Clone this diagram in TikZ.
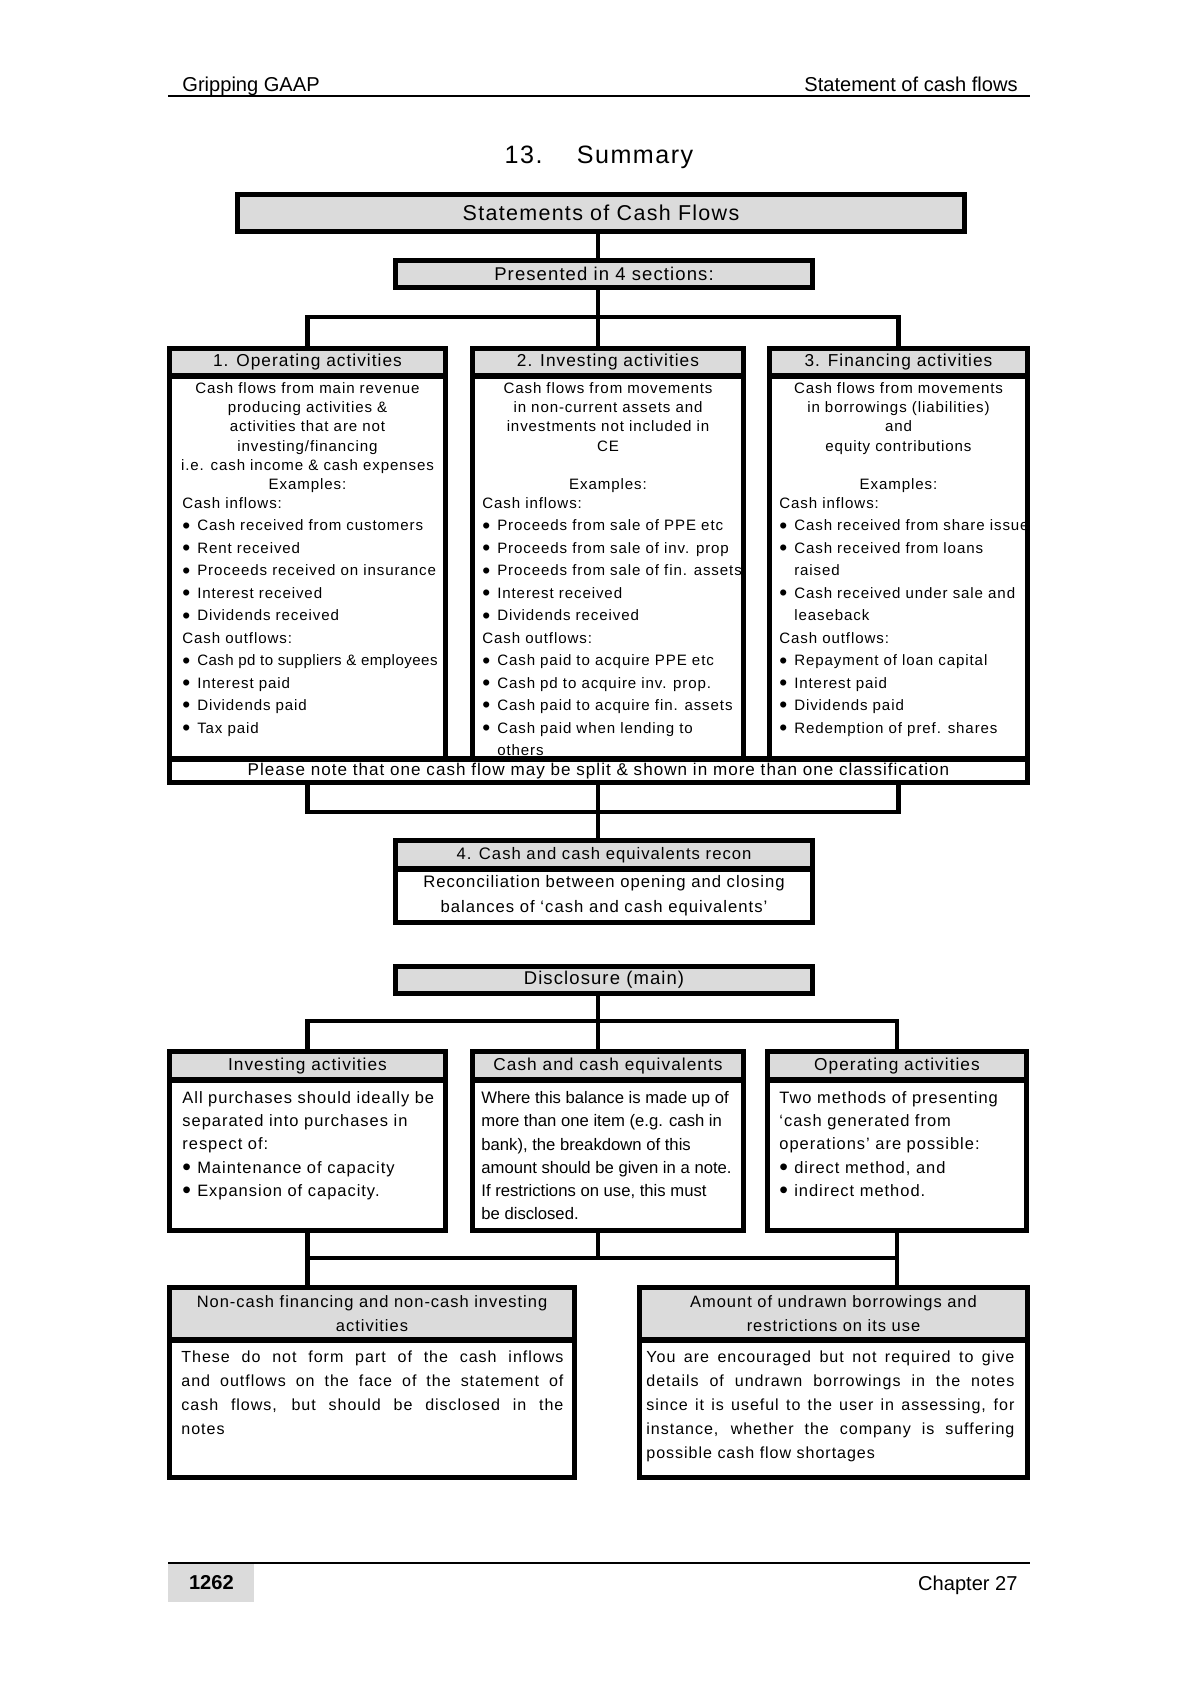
\documentclass[tikz,border=0pt]{standalone}
\usepackage{graphicx}
\usepackage{fontspec}
\setmainfont{Liberation Sans}[LetterSpace=6]
\newfontfamily\pagefont{Liberation Sans}
\usetikzlibrary{positioning}
\newlength{\pxl}
\setlength{\pxl}{0.175mm}
\newcommand{\itm}{\makebox[2.6mm][l]{\raisebox{-0.28ex}{\scalebox{1.5}{\textbullet}}}}
\newcommand{\cnt}{\hspace*{2.6mm}}

\begin{document}
\begin{tikzpicture}[x=0.175mm, y=-0.175mm,
        head/.style={rectangle, draw=black, fill=black!14, line width=2.6pt, outer sep=0pt, inner sep=0pt, align=center, font=\fontsize{8.6}{10}\selectfont},
        body/.style={rectangle, draw=black, fill=white, line width=2.6pt, outer sep=0pt, inner sep=0pt},
        link/.style={draw=black, line width=2.4pt, line cap=rect},
        desc/.style={anchor=north, inner sep=0pt, align=center, font=\fontsize{7.5}{9.6}\selectfont},
        items/.style={anchor=north west, inner sep=0pt, align=left, font=\fontsize{7.5}{11.2}\selectfont},
        notes/.style={anchor=north west, inner sep=0pt, align=left, font=\fontsize{8.2}{11.6}\selectfont},
        para/.style={anchor=north west, inner sep=0pt, align=justify, font=\fontsize{8}{12}\selectfont},
        pagetext/.style={inner sep=0pt, font=\pagefont\fontsize{10}{12}\selectfont}]

        \useasboundingbox (0,0) rectangle (1200,1696);

        \node [pagetext, anchor=base west] (book) at (182,91) {Gripping GAAP};
        \node [pagetext, anchor=base east] (topic) at (1018,91) {Statement of cash flows};
        \draw [line width=1pt] (168,96) -- (1030,96);

        \node [anchor=base, inner sep=0pt, font=\fontsize{12.5}{15}\selectfont] (summary) at (599,163) {13.\hspace{6mm}Summary};

        \coordinate (spine) at (598,0);
        \coordinate (bar1) at (598,317);
        \coordinate (bar2) at (598,812);
        \coordinate (bar3) at (598,1021);
        \coordinate (bar4) at (598,1258);

        \node [head, minimum width=727*\pxl, minimum height=37*\pxl, font=\fontsize{10.7}{12.6}\selectfont] (main) at (601,213) {Statements of Cash Flows};

        \node [head, minimum width=417*\pxl, minimum height=27*\pxl, font=\fontsize{9.2}{11}\selectfont] (sect) at (604,274) {Presented in 4 sections:};

        \node [head, minimum width=276*\pxl, minimum height=27.5*\pxl] (ophead) at (307.5,362.25) {1. Operating activities};
        \node [body, minimum width=276*\pxl, minimum height=383*\pxl, below=0pt of ophead] (opbody) {};

        \node [head, minimum width=271*\pxl, minimum height=27.5*\pxl] (invhead) at (608,362.25) {2. Investing activities};
        \node [body, minimum width=271*\pxl, minimum height=383*\pxl, below=0pt of invhead] (invbody) {};

        \node [head, minimum width=258*\pxl, minimum height=27.5*\pxl] (finhead) at (898.5,362.25) {3. Financing activities};
        \node [body, minimum width=258*\pxl, minimum height=383*\pxl, below=0pt of finhead] (finbody) {};

        \node [body, anchor=north west, minimum width=858*\pxl, minimum height=23.5*\pxl, font=\fontsize{8.5}{9}\selectfont] (note) at (opbody.south west) {Please note that one cash flow may be split \& shown in more than one classification};

        \begin{scope}
            \clip (opbody.north west) rectangle (opbody.south east);
            \node [desc] (opdesc) at (307.5,382) {Cash flows from main revenue\\producing activities \&\\activities that are not\\investing/financing\\i.e. cash income \& cash expenses\\Examples:};
            \node [items] (oplist) at (182,497) {Cash inflows:\\
                \itm Cash received from customers\\
                \itm Rent received\\
                \itm Proceeds received on insurance\\
                \itm Interest received\\
                \itm Dividends received\\
                Cash outflows:\\
                \itm {\addfontfeature{LetterSpace=3}Cash pd to suppliers \& employees}\\
                \itm Interest paid\\
                \itm Dividends paid\\
                \itm Tax paid};
        \end{scope}

        \begin{scope}
            \clip (invbody.north west) rectangle (invbody.south east);
            \node [desc] (invdesc) at (608,382) {Cash flows from movements\\in non-current assets and\\investments not included in\\CE\\[9.6pt]Examples:};
            \node [items] (invlist) at (482,497) {Cash inflows:\\
                \itm Proceeds from sale of PPE etc\\
                \itm Proceeds from sale of inv. prop\\
                \itm Proceeds from sale of fin. assets\\
                \itm Interest received\\
                \itm Dividends received\\
                Cash outflows:\\
                \itm Cash paid to acquire PPE etc\\
                \itm Cash pd to acquire inv. prop.\\
                \itm Cash paid to acquire fin. assets\\
                \itm Cash paid when lending to\\
                \cnt others};
        \end{scope}

        \begin{scope}
            \clip (finbody.north west) rectangle (finbody.south east);
            \node [desc] (findesc) at (898.5,382) {Cash flows from movements\\in borrowings (liabilities)\\and\\equity contributions\\[9.6pt]Examples:};
            \node [items] (finlist) at (779,497) {Cash inflows:\\
                \itm Cash received from share issues\\
                \itm Cash received from loans\\
                \cnt raised\\
                \itm Cash received under sale and\\
                \cnt leaseback\\
                Cash outflows:\\
                \itm Repayment of loan capital\\
                \itm Interest paid\\
                \itm Dividends paid\\
                \itm Redemption of pref. shares};
        \end{scope}

        \node [head, minimum width=417*\pxl, minimum height=28.5*\pxl, font=\fontsize{8.3}{10}\selectfont] (reconhead) at (604,854.75) {4. Cash and cash equivalents recon};
        \node [body, minimum width=417*\pxl, minimum height=53.5*\pxl, below=0pt of reconhead, align=center, font=\fontsize{8.3}{12.4}\selectfont] (reconbody) {Reconciliation between opening and closing\\balances of `cash and cash equivalents'};

        \node [head, minimum width=417*\pxl, minimum height=27*\pxl, font=\fontsize{9.2}{11}\selectfont] (disc) at (604,980) {Disclosure (main)};

        \node [head, minimum width=276*\pxl, minimum height=28.5*\pxl] (dinvhead) at (307.5,1065.75) {Investing activities};
        \node [body, minimum width=276*\pxl, minimum height=150.5*\pxl, below=0pt of dinvhead] (dinvbody) {};

        \node [head, minimum width=271*\pxl, minimum height=28.5*\pxl] (dcashhead) at (608,1065.75) {Cash and cash equivalents};
        \node [body, minimum width=271*\pxl, minimum height=150.5*\pxl, below=0pt of dcashhead] (dcashbody) {};

        \node [head, minimum width=259*\pxl, minimum height=28.5*\pxl] (dophead) at (897,1065.75) {Operating activities};
        \node [body, minimum width=259*\pxl, minimum height=150.5*\pxl, below=0pt of dophead] (dopbody) {};

        \node [notes] (dinvtext) at (182,1091) {All purchases should ideally be\\separated into purchases in\\respect of:\\\itm Maintenance of capacity\\\itm Expansion of capacity.};
        \node [notes, font=\pagefont\fontsize{8.3}{11.6}\selectfont] (dcashtext) at (481,1091) {Where this balance is made up of\\more than one item (e.g. cash in\\bank), the breakdown of this\\amount should be given in a note.\\If restrictions on use, this must\\be disclosed.};
        \node [notes] (doptext) at (779,1091) {Two methods of presenting\\`cash generated from\\operations' are possible:\\\itm direct method, and\\\itm indirect method.};

        \node [head, minimum width=405*\pxl, minimum height=52.5*\pxl, font=\fontsize{8.2}{11.8}\selectfont] (noncashhead) at (372,1313.75) {Non-cash financing and non-cash investing\\activities};
        \node [body, minimum width=405*\pxl, minimum height=137.5*\pxl, below=0pt of noncashhead] (noncashbody) {};

        \node [head, minimum width=388*\pxl, minimum height=52.5*\pxl, font=\fontsize{8.2}{11.8}\selectfont] (undrawnhead) at (833.5,1313.75) {Amount of undrawn borrowings and\\restrictions on its use};
        \node [body, minimum width=388*\pxl, minimum height=137.5*\pxl, below=0pt of undrawnhead] (undrawnbody) {};

        \node [para, text width=382*\pxl] (noncashtext) at (181,1350) {These do not form part of the cash inflows\linebreak and outflows on the face of the statement of\linebreak cash flows, but should be disclosed in the\linebreak notes};
        \node [para, text width=368*\pxl] (undrawntext) at (646,1350) {You are encouraged but not required to give\linebreak details of undrawn borrowings in the notes\linebreak since it is useful to the user in assessing, for\linebreak instance, whether the company is suffering\linebreak possible cash flow shortages};

        \path [link] (main.south -| spine) -- (sect.north -| spine);
        \path [link] (sect.south -| spine) -- (invhead.north -| spine);
        \path [link] (ophead.north) |- (bar1) -| (finhead.north);

        \path [link] (note.south -| ophead.north) |- (bar2) -| (note.south -| finhead.north);
        \path [link] (note.south -| spine) -- (reconhead.north -| spine);

        \path [link] (disc.south -| spine) -- (dcashhead.north -| spine);
        \path [link] (dinvhead.north) |- (bar3) -| (dophead.north);

        \path [link] (dinvbody.south) -- (dinvbody.south |- noncashhead.north);
        \path [link] (dopbody.south) -- (dopbody.south |- undrawnhead.north);
        \path [link] (dinvbody.south |- bar4) -- (dopbody.south |- bar4);
        \path [link] (dcashbody.south -| spine) -- (bar4);

        \node [anchor=north west, fill=black!14, minimum width=86*\pxl, minimum height=39*\pxl, inner sep=0pt, font=\pagefont\bfseries\fontsize{10}{12}\selectfont] (page) at (168,1563) {1262};
        \draw [line width=0.8pt] (168,1563) -- (1030,1563);
        \node [pagetext, anchor=base east] (chapter) at (1018,1590) {Chapter 27};
    \end{tikzpicture}
\end{document}
